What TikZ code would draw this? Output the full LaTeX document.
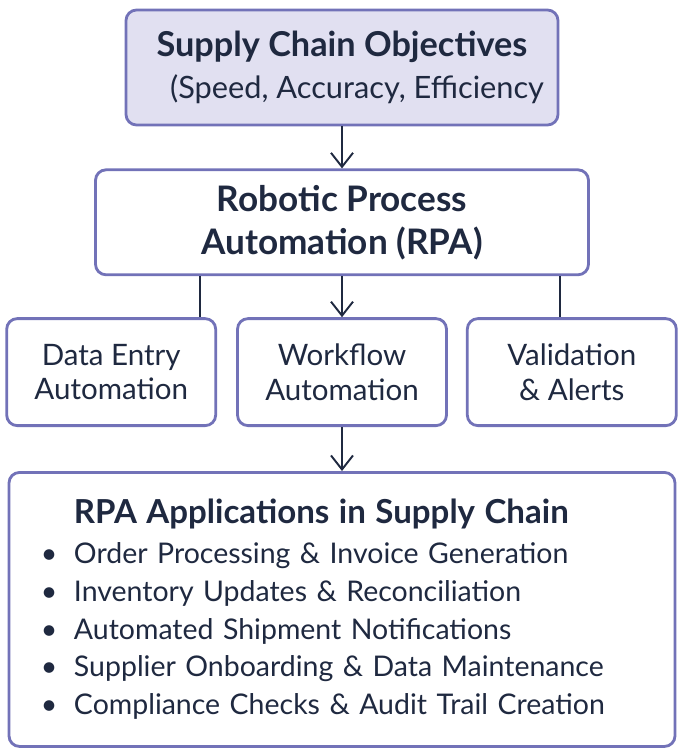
\documentclass[tikz,border=0pt]{standalone}
\usepackage{fontspec}
\setmainfont{Lato}
\usetikzlibrary{arrows.meta,positioning}
\definecolor{boxEdge}{HTML}{7272B8}
\definecolor{boxFill}{HTML}{E1E0F1}
\definecolor{inkNavy}{HTML}{1F2940}

\begin{document}
\begin{tikzpicture}[
  text=inkNavy,
  box/.style={draw=boxEdge, line width=1.6pt, rounded corners=6pt, align=center, fill=white},
  headbox/.style={box, fill=boxFill, minimum width=8.64cm, minimum height=2.3cm, font=\fontsize{17.5}{24}\selectfont},
  rpabox/.style={box, minimum width=9.86cm, minimum height=2.1cm, font=\bfseries\fontsize{20}{24.5}\selectfont},
  taskbox/.style={box, minimum width=4.18cm, minimum height=2.14cm, font=\fontsize{16.8}{19.5}\selectfont},
  appbox/.style={box, align=left, text width=12.04cm, inner xsep=0.64cm, minimum height=5.48cm, font=\fontsize{16.2}{21.5}\selectfont},
  arrow/.style={-{Straight Barb[length=0.28cm, width=0.44cm]}, line width=1.1pt, draw=inkNavy},
  link/.style={line width=1.1pt, draw=inkNavy},
]
\useasboundingbox (-6.84,1.35) rectangle (6.86,-13.61);
\node[headbox] (goals) {{\bfseries\fontsize{19.5}{24}\selectfont Supply Chain Objectives}\\\hspace*{0.6cm}(Speed, Accuracy, Efficiency};
\node[rpabox, below=0.84cm of goals] (rpa) {Robotic Process\\Automation (RPA)};
\node[taskbox, below=0.82cm of rpa] (flow) {Workflow\\Automation};
\node[taskbox, left=0.38cm of flow] (entry) {Data Entry\\Automation};
\node[taskbox, right=0.36cm of flow] (valid) {Validation\\\& Alerts};
\node[appbox, below=0.88cm of flow] (apps) {%
  \hspace*{0.66cm}{\bfseries\fontsize{18.8}{21.5}\selectfont RPA Applications in Supply Chain}\\[1pt]
  \makebox[0.66cm][l]{\textbullet}Order Processing \& Invoice Generation\\
  \makebox[0.66cm][l]{\textbullet}Inventory Updates \& Reconciliation\\
  \makebox[0.66cm][l]{\textbullet}Automated Shipment Notifications\\
  \makebox[0.66cm][l]{\textbullet}Supplier Onboarding \& Data Maintenance\\
  \makebox[0.66cm][l]{\textbullet}Compliance Checks \& Audit Trail Creation};

\draw[arrow] (goals) -- (rpa);
\draw[arrow] (rpa) -- (flow);
\draw[link] ([xshift=1.77cm]entry.north) coordinate (entrytop) -- (entrytop |- rpa.south);
\draw[link] ([xshift=-0.24cm]valid.north) coordinate (validtop) -- (validtop |- rpa.south);
\draw[arrow] (flow) -- (apps);
\end{tikzpicture}
\end{document}
